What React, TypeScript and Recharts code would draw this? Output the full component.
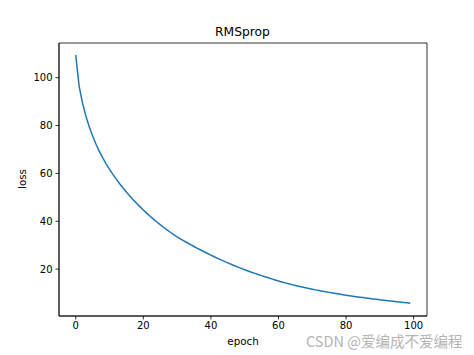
import { LineChart, Line, XAxis, YAxis, Label, ReferenceArea } from 'recharts';

// loss per epoch
const lossValues = [
  109.5, 96.5, 89.5, 84.0, 79.5, 75.6, 72.2, 69.2, 66.5, 64.0,
  61.7, 59.6, 57.6, 55.7, 53.9, 52.2, 50.6, 49.0, 47.5, 46.1,
  44.7, 43.4, 42.1, 40.9, 39.7, 38.6, 37.5, 36.4, 35.4, 34.4,
  33.5, 32.65, 31.82, 31.01, 30.22, 29.45, 28.7, 27.97, 27.25, 26.54,
  25.85, 25.17, 24.51, 23.86, 23.23, 22.61, 22.01, 21.42, 20.85, 20.29,
  19.75, 19.22, 18.71, 18.21, 17.73, 17.26, 16.8, 16.35, 15.91, 15.48,
  15.05, 14.64, 14.25, 13.87, 13.51, 13.16, 12.82, 12.49, 12.18, 11.88,
  11.6, 11.32, 11.05, 10.78, 10.52, 10.27, 10.02, 9.78, 9.55, 9.32,
  9.1, 8.89, 8.68, 8.48, 8.28, 8.09, 7.9, 7.72, 7.54, 7.37,
  7.2, 7.03, 6.86, 6.7, 6.54, 6.38, 6.22, 6.06, 5.9, 5.73,
];
const xTicks = [0, 20, 40, 60, 80, 100];
const yTicks = [20, 40, 60, 80, 100];
const xDomain = [-4.95, 103.95];
const yDomain = [0.4, 114.5];

const data = lossValues.map((loss, epoch) => ({ epoch, loss }));

const font = 'DejaVu Sans, sans-serif';
const tickStyle = { fill: '#000', fontSize: 10, fontFamily: font };
const frame = { stroke: '#000', strokeWidth: 0.8 };

export default function App() {
  return (
    <div style={{ position: 'fixed', left: 0, top: 0, width: 474, height: 355, background: '#fff' }}>
      <div
        style={{
          position: 'absolute', left: 0, width: 485, top: 25, textAlign: 'center',
          fontFamily: font, fontSize: 12.3, color: '#000',
        }}
      >
        RMSprop
      </div>
      <LineChart width={474} height={355} data={data} margin={{ top: 43, right: 47, bottom: 0, left: 0 }}>
        <XAxis
          dataKey="epoch"
          type="number"
          domain={xDomain}
          ticks={xTicks}
          height={39}
          axisLine={frame}
          tickLine={frame}
          tickSize={3.5}
          tickMargin={2}
          tick={tickStyle}
          allowDataOverflow
        >
          <Label value="epoch" position="insideBottom" offset={10} style={{ fill: '#000', fontSize: 10.3, fontFamily: font }} />
        </XAxis>
        <YAxis
          type="number"
          domain={yDomain}
          ticks={yTicks}
          width={59}
          axisLine={frame}
          tickLine={frame}
          tickSize={3.5}
          tickMargin={3}
          tick={tickStyle}
          allowDataOverflow
        >
          <Label
            content={() => (
              <text x={22} y={179} transform="rotate(-90 22 179)" textAnchor="middle" dominantBaseline="central" fill="#000" fontSize={10.3} fontFamily={font}>
                loss
              </text>
            )}
          />
        </YAxis>
        <ReferenceArea
          x1={xDomain[0]}
          x2={xDomain[1]}
          y1={yDomain[0]}
          y2={yDomain[1]}
          fill="none"
          fillOpacity={0}
          stroke="#000"
          strokeWidth={0.8}
          ifOverflow="visible"
        />
        <Line type="linear" dataKey="loss" stroke="#1f77b4" strokeWidth={1.5} dot={false} isAnimationActive={false} />
      </LineChart>
      <div
        style={{
          position: 'absolute', left: 306, top: 331, fontSize: 14.5, color: '#b4b4b4',
          fontFamily: '"Noto Sans CJK SC", sans-serif', whiteSpace: 'nowrap', lineHeight: '20px',
        }}
      >
        CSDN @爱编成不爱编程
      </div>
    </div>
  );
}
